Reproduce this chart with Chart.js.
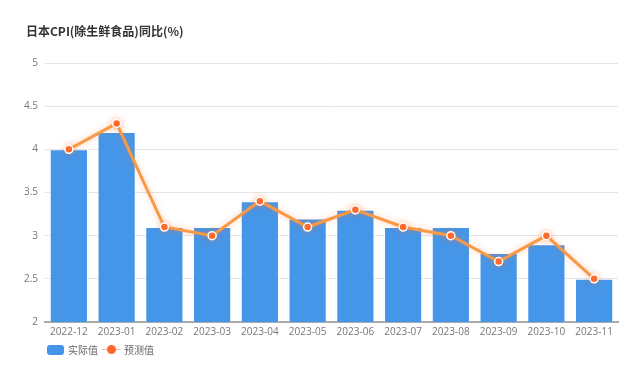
<!DOCTYPE html>
<html>
<head>
<meta charset="utf-8">
<script src="https://cdn.jsdelivr.net/npm/chart.js@4/dist/chart.umd.min.js"></script>
<style>
  html, body { margin: 0; padding: 0; background: #fff; }
  #wrap { position: relative; width: 640px; height: 369px; }
  #title {
    position: absolute; left: 26px; top: 22px;
    font: bold 12px 'Noto Sans CJK SC', sans-serif; color: #333;
  }
  #legend {
    position: absolute; left: 47px; top: 342px; display: flex; align-items: center;
    font: 10px 'Noto Sans CJK SC', sans-serif; color: #666;
  }
  #legend .item { display: flex; align-items: center; margin-right: 4px; }
  #legend .bar { width: 17px; height: 10px; border-radius: 3px; background: #4596e8; margin-right: 4px; }
  #legend .line { position: relative; width: 19px; height: 10px; margin-right: 3px; }
  #legend .line::before { content: ""; position: absolute; left: 0; right: 0; top: 4px; height: 1.5px; background: #ffb98a; }
  #legend .line::after { content: ""; position: absolute; left: 5px; top: 0; width: 9px; height: 9px; border-radius: 50%; background: #ff6a2b; }
</style>
</head>
<body>
<div id="wrap">
  <canvas id="cpiChart"></canvas>
  <div id="title">日本CPI(除生鲜食品)同比(%)</div>
  <div id="legend"></div>
</div>
<script>
const months = ["2022-12", "2023-01", "2023-02", "2023-03", "2023-04", "2023-05",
  "2023-06", "2023-07", "2023-08", "2023-09", "2023-10", "2023-11"];
const actual = [4.0, 4.2, 3.1, 3.1, 3.4, 3.2, 3.3, 3.1, 3.1, 2.8, 2.9, 2.5];
const forecast = [4.0, 4.3, 3.1, 3.0, 3.4, 3.1, 3.3, 3.1, 3.0, 2.7, 3.0, 2.5];
const yTicks = [2, 2.5, 3, 3.5, 4, 4.5, 5];

const barColor = "#4596e8";
const lineColor = "#f89a45";
const dotColor = "#ff6a2b";

// soft glow under the forecast points
const glow = {
  id: "glow",
  beforeDatasetDraw(chart, args) {
    if (args.index === 1) {
      chart.ctx.save();
      chart.ctx.shadowColor = "rgba(255,120,60,0.4)";
      chart.ctx.shadowBlur = 6;
    }
  },
  afterDatasetDraw(chart, args) {
    if (args.index === 1) chart.ctx.restore();
  }
};

const tickFont = { family: "'Open Sans', sans-serif", size: 10 };

const chart = new Chart(document.getElementById("cpiChart"), {
  data: {
    labels: months,
    datasets: [
      {
        type: "bar",
        label: "实际值",
        data: actual,
        backgroundColor: barColor,
        borderColor: "rgba(255,255,255,0.35)",
        borderWidth: 1,
        categoryPercentage: 0.8,
        barPercentage: 1,
        order: 2
      },
      {
        type: "line",
        label: "预测值",
        data: forecast,
        borderColor: lineColor,
        borderWidth: 3,
        pointRadius: 4,
        pointBackgroundColor: dotColor,
        pointBorderColor: "#fff",
        pointBorderWidth: 1.5,
        tension: 0,
        order: 1
      }
    ]
  },
  options: {
    responsive: true,
    maintainAspectRatio: false,
    animation: false,
    layout: { padding: { left: 0, right: 22, top: 63, bottom: 27 } },
    plugins: {
      legend: { display: false },
      tooltip: { enabled: false }
    },
    scales: {
      x: {
        grid: { display: false, drawTicks: false },
        border: { color: "#aaa", width: 2 },
        ticks: { color: "#777", font: tickFont, padding: 4 }
      },
      y: {
        min: 2,
        max: 5,
        afterBuildTicks(axis) { axis.ticks = yTicks.map((v) => ({ value: v })); },
        afterFit(axis) { axis.width = 45; },
        grid: { color: "#e5e5e5", drawTicks: false },
        border: { display: false },
        ticks: {
          color: "#777",
          font: tickFont,
          padding: 7,
          callback: (v) => String(v)
        }
      }
    }
  },
  plugins: [glow]
});

document.getElementById("legend").innerHTML = chart.data.datasets
  .map((ds, i) => `<span class="item"><span class="${i === 0 ? "bar" : "line"}"></span>${ds.label}</span>`)
  .join("");
</script>
</body>
</html>
